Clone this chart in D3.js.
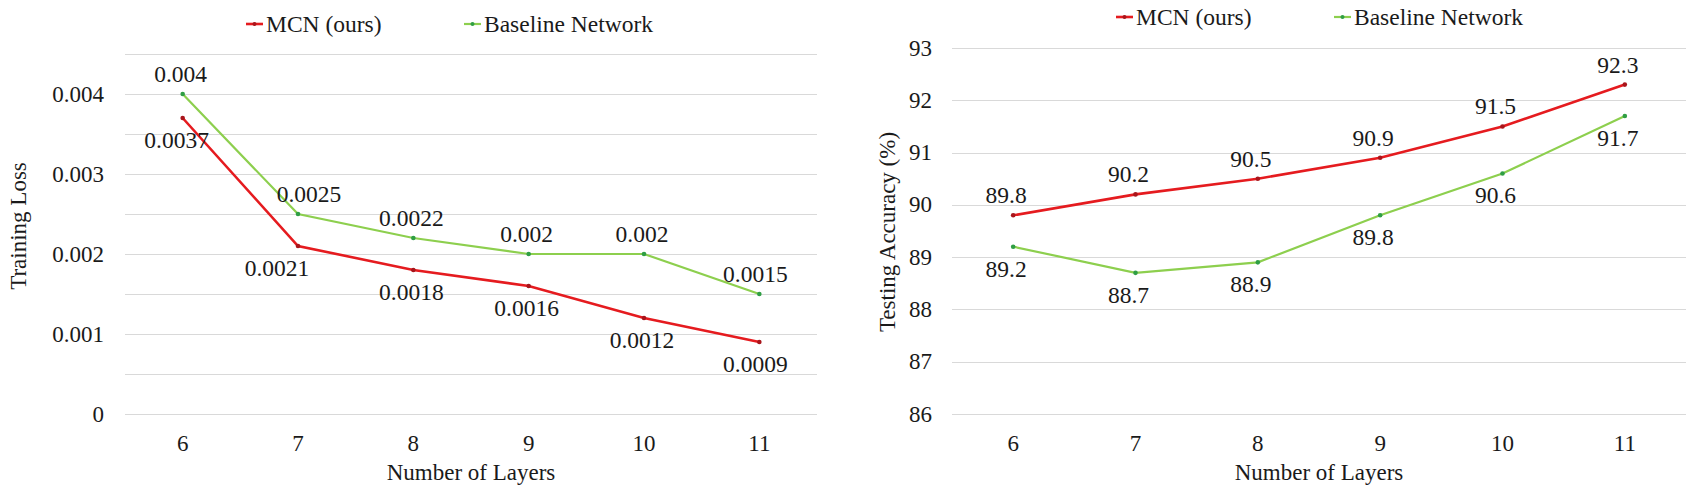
<!DOCTYPE html>
<html lang="en">
<head>
  <meta charset="UTF-8" />
  <title>MCN vs Baseline</title>
  <script src="https://d3js.org/d3.v7.min.js"></script>
  <style>
    body {
      margin: 0;
      background-color: #ffffff;
    }
    svg {
      display: block;
    }
    .grid line {
      stroke: #d9d9d9;
      stroke-width: 1;
    }
  </style>
</head>
<body>
  <svg width="1693" height="492"></svg>
  <script>
    // data
    const layers = [6, 7, 8, 9, 10, 11];
    const seriesNames = ["MCN (ours)", "Baseline Network"];
    const lossMCN = [0.0037, 0.0021, 0.0018, 0.0016, 0.0012, 0.0009];
    const lossBase = [0.004, 0.0025, 0.0022, 0.002, 0.002, 0.0015];
    const accMCN = [89.8, 90.2, 90.5, 90.9, 91.5, 92.3];
    const accBase = [89.2, 88.7, 88.9, 89.8, 90.6, 91.7];
    const lossTicks = [0, 0.001, 0.002, 0.003, 0.004];
    const accTicks = [86, 87, 88, 89, 90, 91, 92, 93];

    const colors = { line: ["#e51b1f", "#8dcf4e"], dot: ["#a8151b", "#2f9e44"] };

    const svg = d3.select("svg");

    // every text gets the serif face inline
    function label(sel, size) {
      return sel.style("font-family", "'Liberation Serif'")
        .style("font-size", size + "px")
        .style("fill", "#1a1a1a");
    }

    function drawChart(cfg) {
      const g = svg.append("g");

      const x = d3.scalePoint()
        .domain(layers)
        .range([cfg.left, cfg.right])
        .padding(0.5);

      const y = d3.scaleLinear()
        .domain(cfg.domain)
        .range([414, cfg.top]);

      // gridlines
      g.append("g").attr("class", "grid")
        .selectAll("line")
        .data(cfg.grid)
        .enter().append("line")
        .attr("x1", cfg.left).attr("x2", cfg.right)
        .attr("y1", d => Math.round(y(d)) + 0.5)
        .attr("y2", d => Math.round(y(d)) + 0.5);

      // y tick labels
      label(g.append("g")
        .selectAll("text")
        .data(cfg.ticks)
        .enter().append("text")
        .attr("x", cfg.tickX)
        .attr("y", d => y(d))
        .attr("dy", "0.33em")
        .attr("text-anchor", "end")
        .text(cfg.fmt), 23);

      // x tick labels
      label(g.append("g")
        .selectAll("text")
        .data(layers)
        .enter().append("text")
        .attr("x", d => x(d))
        .attr("y", 451)
        .attr("text-anchor", "middle")
        .text(d => d), 23);

      label(g.append("text")
        .attr("x", (cfg.left + cfg.right) / 2)
        .attr("y", 480)
        .attr("text-anchor", "middle")
        .text("Number of Layers"), 23);

      label(g.append("text")
        .attr("transform", `translate(${cfg.titleX},${cfg.titleY}) rotate(-90)`)
        .attr("dy", "0.33em")
        .attr("text-anchor", "middle")
        .text(cfg.yTitle), 23);

      const line = d3.line()
        .x((d, i) => x(layers[i]))
        .y(d => y(d));

      cfg.series.forEach((vals, s) => {
        g.append("path")
          .attr("fill", "none")
          .attr("stroke", colors.line[s])
          .attr("stroke-width", s === 0 ? 2.6 : 2.2)
          .attr("d", line(vals));

        g.selectAll(".dot" + s)
          .data(vals)
          .enter().append("circle")
          .attr("cx", (d, i) => x(layers[i]))
          .attr("cy", d => y(d))
          .attr("r", 2.3)
          .attr("fill", colors.dot[s]);

        const above = cfg.above[s];
        label(g.selectAll(".lab" + s)
          .data(vals)
          .enter().append("text")
          .attr("x", (d, i) => x(layers[i]) + cfg.nudge[s][i])
          .attr("y", d => y(d) + (above ? -12 : 30))
          .attr("text-anchor", "middle")
          .text(d => cfg.labelFmt(d)), 23.5);
      });

      // legend
      cfg.legend.forEach((lx, s) => {
        const ly = cfg.legendY;
        g.append("line")
          .attr("x1", lx).attr("x2", lx + 17)
          .attr("y1", ly).attr("y2", ly)
          .attr("stroke", colors.line[s])
          .attr("stroke-width", s === 0 ? 2.6 : 2.2);
        g.append("circle")
          .attr("cx", lx + 8.5).attr("cy", ly).attr("r", 2)
          .attr("fill", colors.dot[s]);
        label(g.append("text")
          .attr("x", lx + 20)
          .attr("y", ly)
          .attr("dy", "0.33em")
          .text(seriesNames[s]), 23.5);
      });
    }

    drawChart({
      left: 125, right: 817, top: 54,
      domain: [0, 0.0045],
      grid: d3.range(0, 10).map(i => i * 0.0005),
      ticks: lossTicks,
      fmt: d => d === 0 ? "0" : d3.format(".3f")(d),
      tickX: 104,
      titleX: 18, titleY: 226,
      yTitle: "Training Loss",
      series: [lossMCN, lossBase],
      above: [false, true],
      nudge: [[-6, -21, -2, -2, -2, -4], [-2, 11, -2, -2, -2, -4]],
      labelFmt: d => String(+d.toPrecision(2)),
      legend: [246, 464],
      legendY: 24
    });

    drawChart({
      left: 952, right: 1686, top: 48,
      domain: [86, 93],
      grid: accTicks,
      ticks: accTicks,
      fmt: d => d,
      tickX: 932,
      titleX: 887, titleY: 232,
      yTitle: "Testing Accuracy (%)",
      series: [accMCN, accBase],
      above: [true, false],
      nudge: [[-7, -7, -7, -7, -7, -7], [-7, -7, -7, -7, -7, -7]],
      labelFmt: d => d.toFixed(1),
      legend: [1116, 1334],
      legendY: 17
    });
  </script>
</body>
</html>
